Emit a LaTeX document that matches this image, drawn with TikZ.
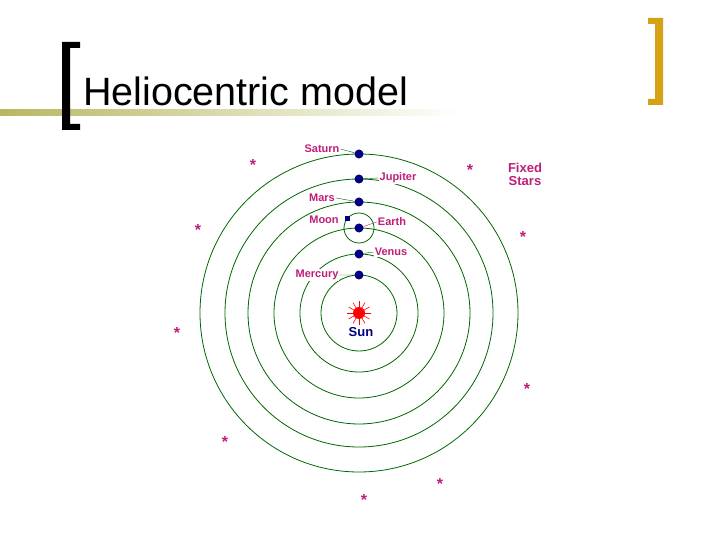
\documentclass[tikz,border=0pt]{standalone}
\usepackage{fontspec}
\setmainfont{Liberation Sans}
\definecolor{gold}{RGB}{212,162,20}
\definecolor{mag}{RGB}{190,30,120}
\begin{document}
\begin{tikzpicture}[x=1pt,y=-1pt,
  orbit/.style={draw=green!40!black,line width=0.8pt},
  planet/.style={circle,fill=blue!50!black,inner sep=0pt,minimum size=9pt},
  lbl/.style={text=mag,font=\bfseries\fontsize{11}{12}\selectfont,fill=white,inner sep=1pt},
  star/.style={text=mag,font=\bfseries\fontsize{16}{16}\selectfont,inner sep=0pt}]
\useasboundingbox (0,0) rectangle (720,540);
\fill[left color=black!25!olive!45,right color=white] (0,110) rectangle (460,116);
\fill[black] (62,42) rectangle (70,130) (62,42) rectangle (80,48) (62,124) rectangle (80,130);
\fill[gold] (655,18) rectangle (663,105) (648,18) rectangle (663,24) (648,99) rectangle (663,105);
\node[anchor=base west,font=\fontsize{39.5}{40}\selectfont,inner sep=0pt] (title) at (83,106) {Heliocentric model};
\coordinate (sun) at (359,313);
\foreach \r in {38,59,85,111,134,159} \draw[orbit] (sun) circle[radius=\r];
\draw[orbit] (359,228) circle[radius=15];
\node[planet] (sat) at (359,154) {};
\node[planet] (jup) at (359,179) {};
\node[planet] (mar) at (359,202) {};
\node[planet] (ear) at (359,228) {};
\node[planet] (ven) at (359,254) {};
\node[planet] (mer) at (359,275) {};
\node[fill=blue!50!black,inner sep=0pt,minimum size=5pt] (moon) at (347,219) {};
\node[lbl] (lsat) at (322,149) {Saturn};
\node[lbl] (ljup) at (398,178) {Jupiter};
\node[lbl] (lmar) at (322,198) {Mars};
\node[lbl] (lmoon) at (324,220) {Moon};
\node[lbl] (lear) at (392,222) {Earth};
\node[lbl] (lven) at (391,252) {Venus};
\node[lbl] (lmer) at (317,275) {Mercury};
\draw[mag] (ear) -- (lear.west);
\draw[green!40!black] (sat) -- (lsat.east) (jup) -- (ljup.west) (mar) -- (lmar.east) (ven) -- (lven.west) (mer) -- (lmer.east);
\foreach \a in {0,30,...,330} \draw[red,line width=0.6pt] (sun) -- ++(\a:12);
\node[circle,fill=red,inner sep=0pt,minimum size=12pt] (sunc) at (sun) {};
\node[text=blue!50!black,font=\bfseries\fontsize{13}{13}\selectfont] (lsun) at (361,332) {Sun};
\node[lbl,align=center,font=\bfseries\fontsize{13}{13}\selectfont] (fs) at (525,174) {Fixed\\Stars};
\foreach \p [count=\i] in {(253,165),(470,170),(198,230),(523,237),(177,333),(527,389),(225,442),(440,484),(364,500)}
  \node[star] (s\i) at \p {*};
\end{tikzpicture}
\end{document}
